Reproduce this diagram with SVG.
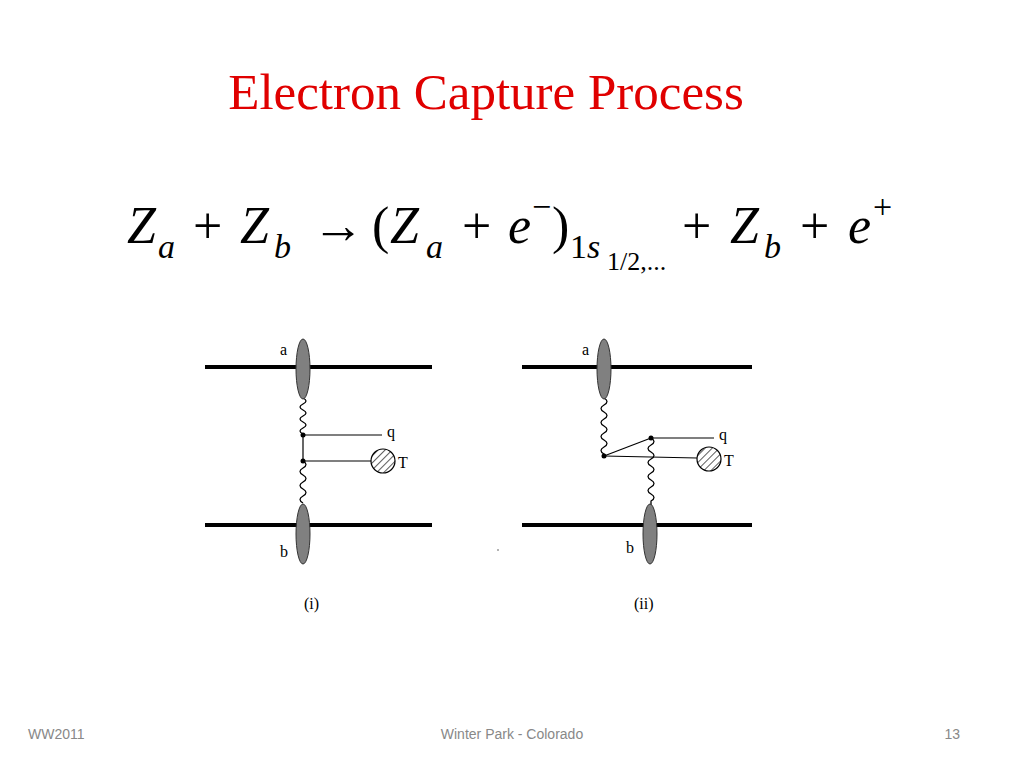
<svg xmlns="http://www.w3.org/2000/svg" width="1024" height="768" viewBox="0 0 1024 768">
<defs>
<pattern id="hatch" width="5" height="5" patternUnits="userSpaceOnUse" patternTransform="rotate(45)"><rect width="5" height="5" fill="#fff"/><line x1="0" y1="0" x2="0" y2="5" stroke="#333" stroke-width="1.6"/></pattern>
</defs>
<style>
.beam{stroke:#000;stroke-width:4}
.ell{fill:#808080;stroke:#333;stroke-width:1}
.ln{stroke:#000;stroke-width:1.2;fill:none}
.wig{stroke:#000;stroke-width:1.3;fill:none}
.lab{font-family:'Liberation Serif',serif;font-size:16px;fill:#000}
.eq text{font-family:'Liberation Serif',serif;fill:#000}
.ft{font-family:'Liberation Sans',sans-serif;font-size:14px;fill:#888}
</style>
<rect width="1024" height="768" fill="#fff"/>
<text x="486" y="109" text-anchor="middle" font-family="Liberation Serif,serif" font-size="51" fill="#e00000">Electron Capture Process</text>
<g id="equation" class="eq" font-size="52">
<text x="127" y="243" font-style="italic">Z</text>
<text x="158" y="258" font-size="34" font-style="italic">a</text>
<text x="193" y="243">+</text>
<text x="240" y="243" font-style="italic">Z</text>
<text x="274" y="258" font-size="34" font-style="italic">b</text>
<text x="312" y="243">→</text>
<text x="372" y="243">(</text>
<text x="390" y="243" font-style="italic">Z</text>
<text x="426" y="258" font-size="34" font-style="italic">a</text>
<text x="462" y="243">+</text>
<text x="508" y="243" font-style="italic">e</text>
<text x="532" y="218" font-size="34">−</text>
<text x="552" y="243">)</text>
<text x="570" y="258" font-size="34">1<tspan font-style="italic">s</tspan></text>
<text x="607" y="270" font-size="26">1/2,...</text>
<text x="682" y="243">+</text>
<text x="730" y="243" font-style="italic">Z</text>
<text x="764" y="258" font-size="34" font-style="italic">b</text>
<text x="800" y="243">+</text>
<text x="848" y="243" font-style="italic">e</text>
<text x="873" y="218" font-size="34">+</text>
</g>
<g id="diagram-i">
<line class="beam" x1="205" y1="367" x2="432" y2="367"/>
<line class="beam" x1="205" y1="525" x2="432" y2="525"/>
<path class="wig" d="M303,398 q6,3 0,6 q-6,3 0,6 q6,3 0,6 q-6,3 0,6 q6,3 0,6 q-6,3 0,6 l0,1"/>
<path class="wig" d="M303,461 q6,3.5 0,7 q-6,3.5 0,7 q6,3.5 0,7 q-6,3.5 0,7 q6,3.5 0,7 q-6,3.5 0,7"/>
<ellipse class="ell" cx="303" cy="369" rx="7" ry="30"/>
<ellipse class="ell" cx="303" cy="534" rx="7" ry="30"/>
<line class="ln" x1="303" y1="435" x2="303" y2="461"/>
<line class="ln" x1="303" y1="435" x2="382" y2="435"/>
<line class="ln" x1="303" y1="461" x2="371" y2="461"/>
<circle cx="303" cy="435" r="2.5"/><circle cx="303" cy="461" r="2.5"/>
<circle cx="383" cy="461" r="12" fill="url(#hatch)" stroke="#000" stroke-width="1.2"/>
<text class="lab" x="280" y="355">a</text>
<text class="lab" x="280" y="557">b</text>
<text class="lab" x="387" y="437">q</text>
<text class="lab" x="398" y="468">T</text>
<text class="lab" x="304" y="609">(i)</text>
</g>
<g id="diagram-ii">
<line class="beam" x1="522" y1="367" x2="752" y2="367"/>
<line class="beam" x1="522" y1="525" x2="752" y2="525"/>
<path class="wig" d="M604,398 q6,3.5 0,7 q-6,3.5 0,7 q6,3.5 0,7 q-6,3.5 0,7 q6,3.5 0,7 q-6,3.5 0,7 q6,3.5 0,7 q-6,3.5 0,7 l0,1"/>
<path class="wig" d="M651,438 q6,3.5 0,7 q-6,3.5 0,7 q6,3.5 0,7 q-6,3.5 0,7 q6,3.5 0,7 q-6,3.5 0,7 q6,3.5 0,7 q-6,3.5 0,7 q6,3.5 0,7 l0,4"/>
<ellipse class="ell" cx="604" cy="369" rx="7" ry="30"/>
<ellipse class="ell" cx="650" cy="534" rx="7" ry="30"/>
<line class="ln" x1="604" y1="456" x2="651" y2="438"/>
<line class="ln" x1="651" y1="438" x2="714" y2="438"/>
<line class="ln" x1="604" y1="456" x2="697" y2="458"/>
<circle cx="604" cy="456" r="2.5"/><circle cx="651" cy="438" r="2.5"/>
<circle cx="709" cy="459" r="12" fill="url(#hatch)" stroke="#000" stroke-width="1.2"/>
<text class="lab" x="582" y="355">a</text>
<text class="lab" x="626" y="553">b</text>
<text class="lab" x="719" y="440">q</text>
<text class="lab" x="724" y="466">T</text>
<text class="lab" x="634" y="609">(ii)</text>
</g>
<circle cx="498" cy="550" r="0.8" fill="#555"/>
<text class="ft" x="28" y="739">WW2011</text>
<text class="ft" x="512" y="739" text-anchor="middle">Winter Park - Colorado</text>
<text class="ft" x="960" y="739" text-anchor="end">13</text>
</svg>
